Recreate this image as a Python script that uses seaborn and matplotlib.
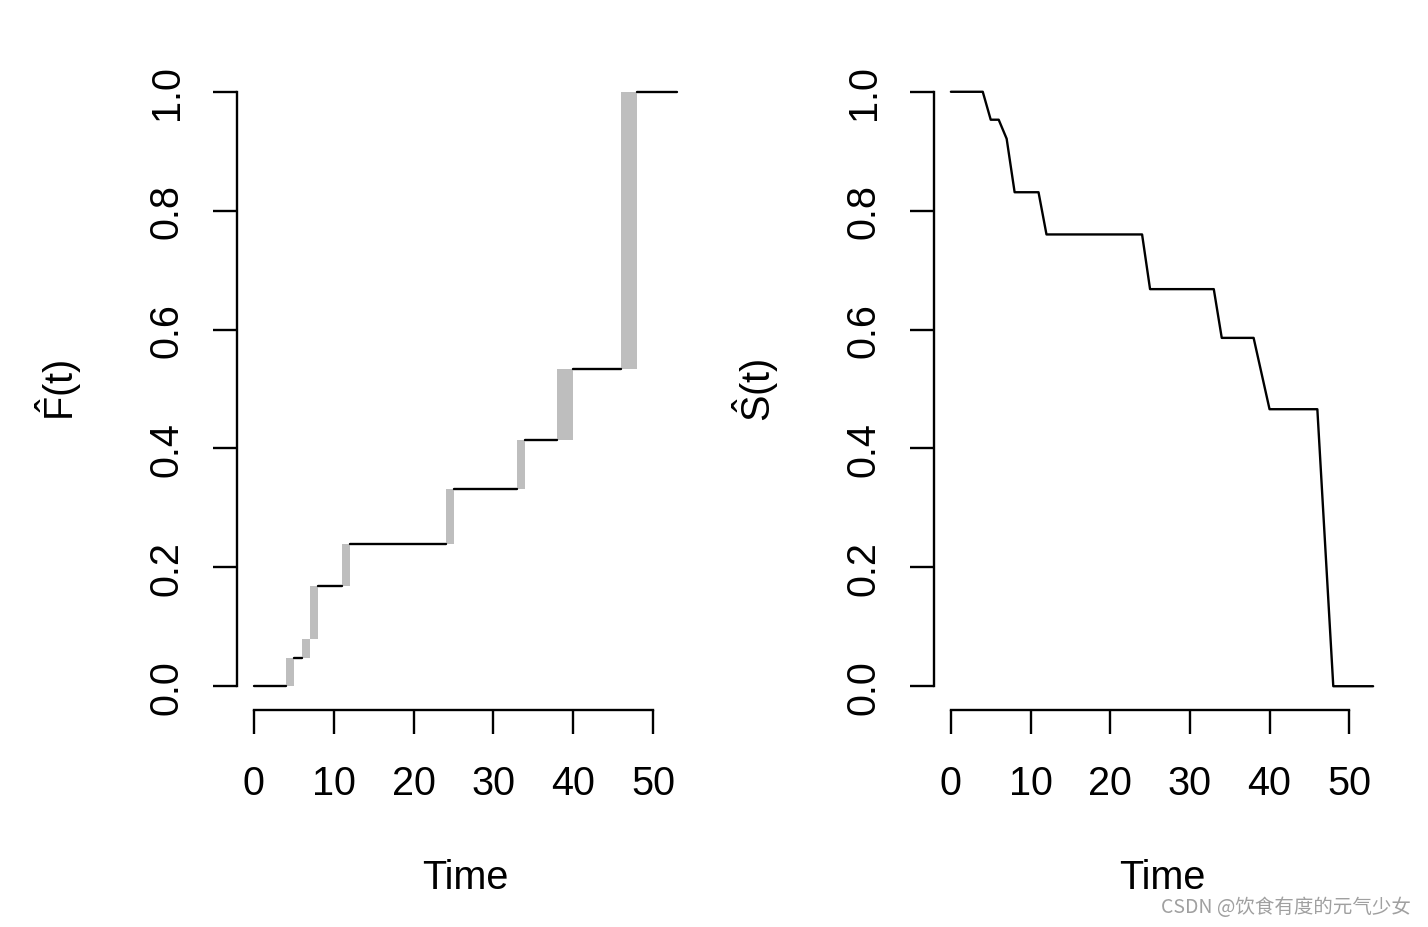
import numpy as np
import pandas as pd
import seaborn as sns
import matplotlib
matplotlib.use("Agg")
import matplotlib.pyplot as plt

# Turnbull intervals (left / right ends) and NPMLE cumulative probabilities
interval_left = [4, 6, 7, 11, 24, 33, 38, 46]
interval_right = [5, 7, 8, 12, 25, 34, 40, 48]
cum_F = [0.047, 0.079, 0.169, 0.240, 0.332, 0.414, 0.534, 1.0]
t_start = 0
t_end = 53
x_ticks = [0, 10, 20, 30, 40, 50]
y_ticks = [0.0, 0.2, 0.4, 0.6, 0.8, 1.0]
x_label = "Time"
watermark = "CSDN @饮食有度的元气少女"

sns.set_theme(style="white")
plt.rcParams["font.family"] = ["Liberation Sans", "Noto Sans CJK SC", "DejaVu Sans"]
plt.rcParams["mathtext.fontset"] = "custom"
plt.rcParams["mathtext.rm"] = "Liberation Sans"
plt.rcParams["mathtext.it"] = "Liberation Sans"
plt.rcParams["mathtext.bf"] = "Liberation Sans"

FS = 28.5
fig = plt.figure(figsize=(14.28, 9.28), dpi=100)
axL = fig.add_axes([237/1428, 1-711/928, (694-237)/1428, (711-69)/928])
axR = fig.add_axes([934/1428, 1-711/928, (1390-934)/1428, (711-69)/928])

# ---- left: F(t) with shaded Turnbull intervals
prev = [0.0] + cum_F[:-1]
axL.bar(interval_left, np.array(cum_F) - np.array(prev),
        width=np.array(interval_right) - np.array(interval_left),
        bottom=prev, align="edge", color="#BEBEBE", edgecolor="none", zorder=1)
seg_starts = [t_start] + interval_right
seg_ends = interval_left + [t_end]
seg_levels = [0.0] + cum_F
for i, (a, b, lv) in enumerate(zip(seg_starts, seg_ends, seg_levels)):
    df = pd.DataFrame({"t": [a, b], "F": [lv, lv], "seg": i})
    sns.lineplot(data=df, x="t", y="F", ax=axL, color="black", lw=1.7,
                 estimator=None, sort=False, zorder=2)

# ---- right: S(t), linear across intervals
ts = [t_start]
ss = [1.0]
for a, b, f, p in zip(interval_left, interval_right, cum_F, prev):
    ts += [a, b]
    ss += [1 - p, 1 - f]
ts.append(t_end)
ss.append(1 - cum_F[-1])
dfS = pd.DataFrame({"t": ts, "S": ss})
sns.lineplot(data=dfS, x="t", y="S", ax=axR, color="black", lw=1.7,
             estimator=None, sort=False)

for ax, lab in [(axL, r"$\hat{F}(t)$"), (axR, r"$\hat{S}(t)$")]:
    ax.set_xlim(-0.04 * 53, 53 * 1.04)
    ax.set_ylim(-0.04, 1.04)
    ax.set_xticks(x_ticks)
    ax.set_yticks(y_ticks)
    ax.set_xticklabels([str(v) for v in x_ticks])
    ax.set_yticklabels([f"{v:.1f}" for v in y_ticks], rotation=90, va="center")
    for s in ["top", "right"]:
        ax.spines[s].set_visible(False)
    for s in ["left", "bottom"]:
        ax.spines[s].set_color("black")
        ax.spines[s].set_linewidth(1.7)
    ax.spines["left"].set_bounds(0, 1)
    ax.spines["bottom"].set_bounds(0, 50)
    ax.tick_params(axis="both", direction="out", length=17, width=1.7,
                   color="black", labelsize=FS, labelcolor="black",
                   left=True, bottom=True)
    ax.tick_params(axis="x", pad=22)
    ax.tick_params(axis="y", pad=20)
    ax.set_xlabel(x_label, fontsize=FS, color="black", labelpad=40)
    ax.set_ylabel(lab, fontsize=FS, color="black", labelpad=46)
    ax.grid(False)
    ax.set_facecolor("white")

fig.text(1411/1428, 1-908/928, watermark, ha="right", va="center",
         fontsize=14, color="#A0A0A0",
         family=["Noto Sans CJK SC", "DejaVu Sans"])

fig.savefig("out.png", dpi=100, facecolor="white")
